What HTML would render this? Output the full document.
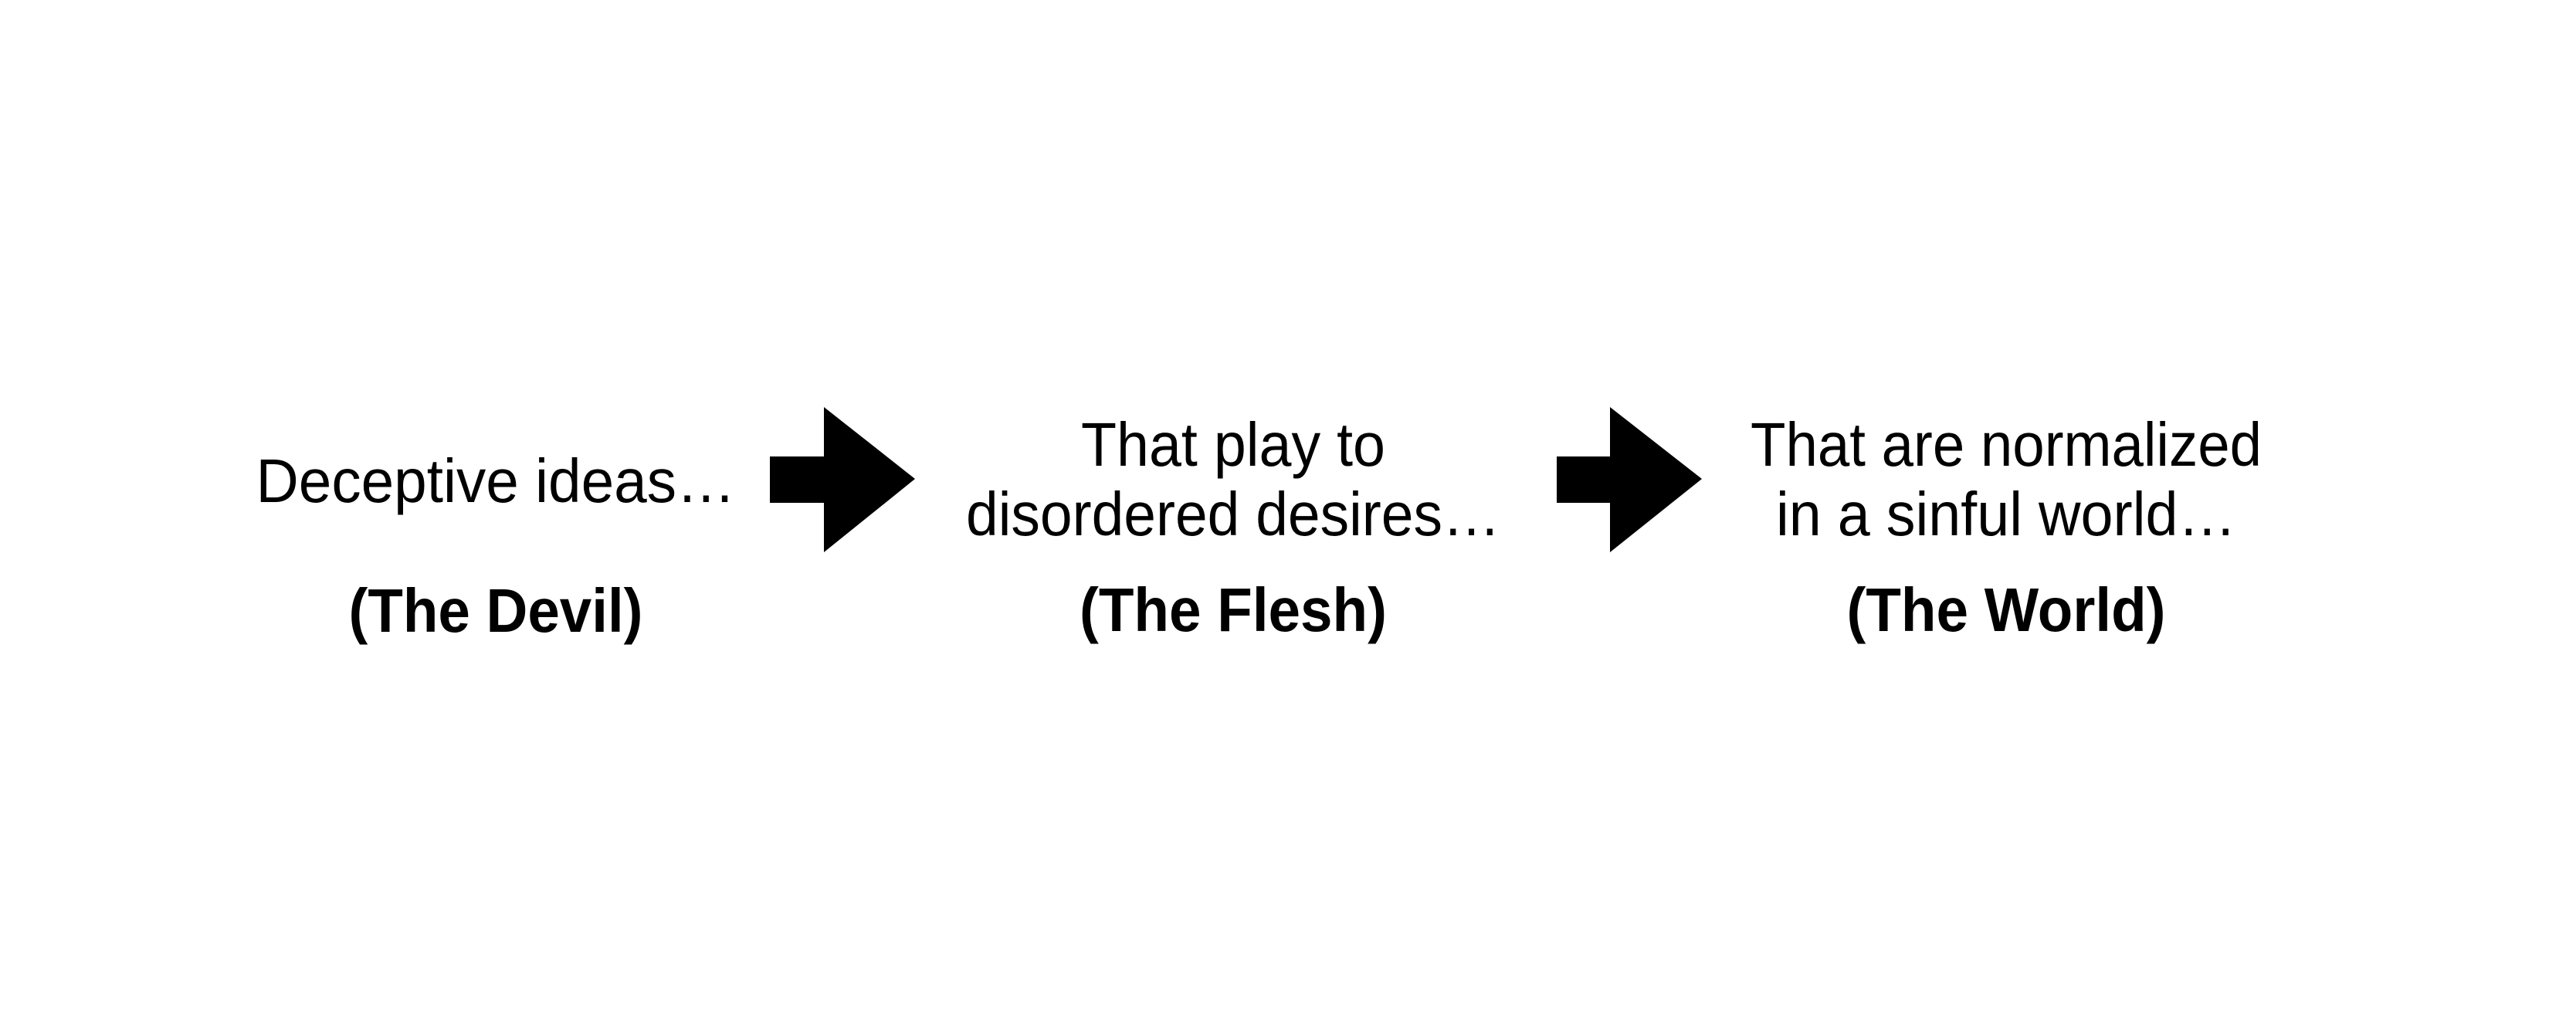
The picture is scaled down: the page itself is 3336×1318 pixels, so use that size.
<!DOCTYPE html>
<html><head><meta charset="utf-8"><style>
html,body{margin:0;padding:0;background:#fff;}
svg{display:block;}
text{font-family:"Liberation Sans",Arial,sans-serif;fill:#000;}
.b{font-weight:bold;}
</style></head><body>
<svg width="3336" height="1318" viewBox="0 0 3336 1318" xmlns="http://www.w3.org/2000/svg">
<rect width="3336" height="1318" fill="#fff"/>
<text x="642" y="650" font-size="80" text-anchor="middle" textLength="621" lengthAdjust="spacingAndGlyphs">Deceptive ideas…</text>
<text x="642" y="818" font-size="80" text-anchor="middle" class="b" textLength="381" lengthAdjust="spacingAndGlyphs">(The Devil)</text>
<polygon points="997,591 1067,591 1067,527 1185,620 1067,715 1067,651 997,651" fill="#000"/>
<text x="1597" y="603" font-size="80" text-anchor="middle" textLength="394" lengthAdjust="spacingAndGlyphs">That play to</text>
<text x="1597" y="693" font-size="80" text-anchor="middle" textLength="692" lengthAdjust="spacingAndGlyphs">disordered desires…</text>
<text x="1597" y="817" font-size="80" text-anchor="middle" class="b" textLength="398" lengthAdjust="spacingAndGlyphs">(The Flesh)</text>
<polygon points="2016,591 2085,591 2085,527 2204,620 2085,715 2085,651 2016,651" fill="#000"/>
<text x="2598" y="603" font-size="80" text-anchor="middle" textLength="662" lengthAdjust="spacingAndGlyphs">That are normalized</text>
<text x="2598" y="693" font-size="80" text-anchor="middle" textLength="596" lengthAdjust="spacingAndGlyphs">in a sinful world…</text>
<text x="2598" y="817" font-size="80" text-anchor="middle" class="b" textLength="413" lengthAdjust="spacingAndGlyphs">(The World)</text>
</svg>
</body></html>
